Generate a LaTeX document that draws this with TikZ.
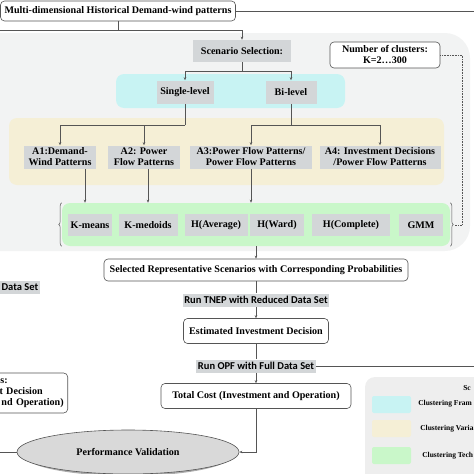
\documentclass[tikz,border=0pt]{standalone}
\usepackage{fontspec}
\setmainfont{Liberation Serif}
\newfontfamily\runfont{Carlito}
\usetikzlibrary{arrows.meta,positioning,decorations.pathreplacing,shapes.geometric}

\definecolor{boxgray}{HTML}{D3D6D8}
\definecolor{backgray}{HTML}{F2F3F3}
\definecolor{legendgray}{HTML}{EEEEEE}
\definecolor{framecyan}{HTML}{C8F3F3}
\definecolor{varcream}{HTML}{F5EFD6}
\definecolor{techgreen}{HTML}{C9F7C9}
\definecolor{linegray}{HTML}{555555}
\definecolor{ellgray}{HTML}{D9D9D9}

\begin{document}
\begin{tikzpicture}[
    x = 1pt, y = -1pt, % one unit = one pixel of the figure
    > = {Stealth[length=3pt,width=2.5pt]},
    font = \fontsize{10.1}{11}\selectfont\bfseries,
    semithick
    ]

    \tikzset{
    panel/.style = {rounded corners=8pt, inner sep=0pt},
    graybox/.style = {fill=boxgray, inner sep=1pt, align=center, minimum height=22pt},
    whitebox/.style = {draw=linegray, fill=white, rounded corners=4pt, align=center, inner sep=1pt},
    runlabel/.style = {fill=boxgray, inner sep=1.5pt, minimum height=13pt,
      font=\runfont\fontsize{10.5}{11}\selectfont\bfseries},
    link/.style = {draw=linegray, line width=0.6pt},
    swatch/.style = {rounded corners=2pt, minimum width=39pt, minimum height=17pt},
    legendtext/.style = {anchor=west, inner sep=0pt, font=\fontsize{7.5}{9}\selectfont\bfseries}
    }
    \useasboundingbox (0,0) rectangle (474,474);

    % background panels
    \fill[backgray, rounded corners=25pt] (-40,33) rectangle (470,251);
    \node[panel, fill=framecyan, minimum width=229pt, minimum height=34pt] (framepanel) at (230.5,91) {};
    \node[panel, fill=varcream, minimum width=435pt, minimum height=67pt] (varpanel) at (226.5,151.5) {};
    \node[panel, fill=techgreen, minimum width=388pt, minimum height=43pt] (techpanel) at (256,224.5) {};
    \draw[linegray, line width=0.5pt, decorate, decoration={brace, amplitude=3pt}]
      (techpanel.south west) -- (techpanel.north west);
    \draw[linegray, line width=0.5pt, decorate, decoration={brace, amplitude=3pt}]
      (techpanel.north east) -- (techpanel.south east);

    % boxes
    \node[whitebox, minimum width=235pt, minimum height=20pt] (hist) at (118,11) {Multi-dimensional Historical Demand-wind patterns};
    \node[graybox, minimum width=98pt] (scen) at (242,51) {Scenario Selection:};
    \node[whitebox, minimum width=110pt, minimum height=26pt] (clus) at (385,55) {Number of clusters:\\K=2\ldots300};
    \node[graybox, minimum width=57pt, minimum height=23pt] (single) at (185,92) {Single-level};
    \node[graybox, minimum width=51pt, minimum height=23pt] (bilevel) at (291,92) {Bi-level};

    \node[graybox, minimum width=72pt, minimum height=23pt] (aone) at (60,157) {A1:Demand-\\Wind Patterns};
    \node[graybox, minimum width=72pt, minimum height=23pt] (atwo) at (144,157) {A2: Power\\Flow Patterns};
    \node[graybox, minimum width=122pt, minimum height=23pt] (athree) at (251,157) {A3:Power Flow Patterns/\\Power Flow Patterns};
    \node[graybox, minimum width=121pt, minimum height=23pt] (afour) at (380,157) {A4: Investment Decisions\\/Power Flow Patterns};

    \node[graybox, minimum width=44pt] (kmeans) at (90,225) {K-means};
    \node[graybox, minimum width=59pt] (kmedoids) at (148,225) {K-medoids};
    \node[graybox, minimum width=63pt] (havg) at (216,225) {H(Average)};
    \node[graybox, minimum width=54pt] (hward) at (277,225) {H(Ward)};
    \node[graybox, minimum width=78pt] (hcomp) at (351,225) {H(Complete)};
    \node[graybox, minimum width=44pt] (gmm) at (421,225) {GMM};

    \node[whitebox, minimum width=304pt, minimum height=22pt] (selected) at (256,270) {Selected Representative Scenarios with Corresponding Probabilities};
    \node[runlabel] (tnep) at (256,300) {Run TNEP with Reduced Data Set};
    \node[runlabel, anchor=east] (dataset) at (40,287) {Data Set};
    \node[whitebox, minimum width=145pt, minimum height=25pt] (estim) at (256,331) {Estimated Investment Decision};
    \node[runlabel] (opf) at (256,366) {Run OPF with Full Data Set};
    \node[whitebox, minimum width=190pt, minimum height=25pt] (total) at (256,396) {Total Cost (Investment and Operation)};

    \fill[gray!65] (128,455) ellipse (104pt and 21pt);
    \node[ellipse, draw=linegray, fill=ellgray, minimum width=222pt, minimum height=44pt, inner sep=0pt] (perf) at (128,452) {Performance Validation};
    \node[whitebox, anchor=east, text width=101pt, minimum height=40pt, align=right, inner sep=4pt] (final) at (68,393)
      {s:\rule{56pt}{0pt}\\t Decision\rule{21pt}{0pt}\\nd Operation)};

    % legend
    \fill[legendgray, rounded corners=10pt] (365,377) rectangle (500,490);
    \node[legendtext] (legtitle) at (463,388) {Sc};
    \node[swatch, fill=framecyan] (swframe) at (391.5,404.5) {};
    \node[swatch, fill=varcream] (swvar) at (391.5,428.5) {};
    \node[swatch, fill=techgreen] (swtech) at (391.5,455.5) {};
    \node[legendtext] (lgframe) at (418,404) {Clustering Fram};
    \node[legendtext] (lgvar) at (420,429) {Clustering Varia};
    \node[legendtext] (lgtech) at (422,456) {Clustering Tech};

    % connectors
    \coordinate (histout) at (480,11);
    \coordinate (leftout) at (-5,30);
    \coordinate (opfout) at (480,366);
    \coordinate (perfout) at (-5,452);
    \coordinate (bracetip) at (454,225);
    \draw[link] (hist.east) -- (histout);
    \draw[link] (hist.south) -- (hist.south |- leftout);
    \draw[link,->] (leftout) -| (scen.north);
    \draw[link] (scen.south) -- ++(0,9) coordinate (scenbr);
    \draw[link,->] (scenbr) -| (single.north);
    \draw[link,->] (scenbr) -| (bilevel.north);
    \draw[link] (single.south) -- (single.south |- 0,125) coordinate (singlebr);
    \draw[link,->] (singlebr) -| (aone.north);
    \draw[link,->] (singlebr) -| (atwo.north);
    \draw[link] (bilevel.south) -- (bilevel.south |- 0,125) coordinate (bibr);
    \draw[link,->] (bibr) -| (athree.north);
    \draw[link,->] (bibr) -| (afour.north);
    \draw[link,->] (aone.south -| 85,0) -- (techpanel.north -| 85,0);
    \draw[link,->] (atwo.south -| 148,0) -- (techpanel.north -| 148,0);
    \draw[link,->] (athree.south) -- (techpanel.north -| athree.south);
    \draw[link,densely dotted] (clus.east) -| (462,225) -- (bracetip);
    \draw[link,->] (techpanel.south) -- (selected.north);
    \draw[link] (selected.south) -- (tnep.north);
    \draw[link,->] (tnep.south) -- (estim.north);
    \draw[link] (estim.south) -- (opf.north);
    \draw[link,->] (opf.south) -- (total.north);
    \draw[link] (opf.east) -- (opfout);
    \draw[link,->] (total.south) |- (perf.east);
    \draw[link] (perf.west) -- (perfout);
\end{tikzpicture}
\end{document}
